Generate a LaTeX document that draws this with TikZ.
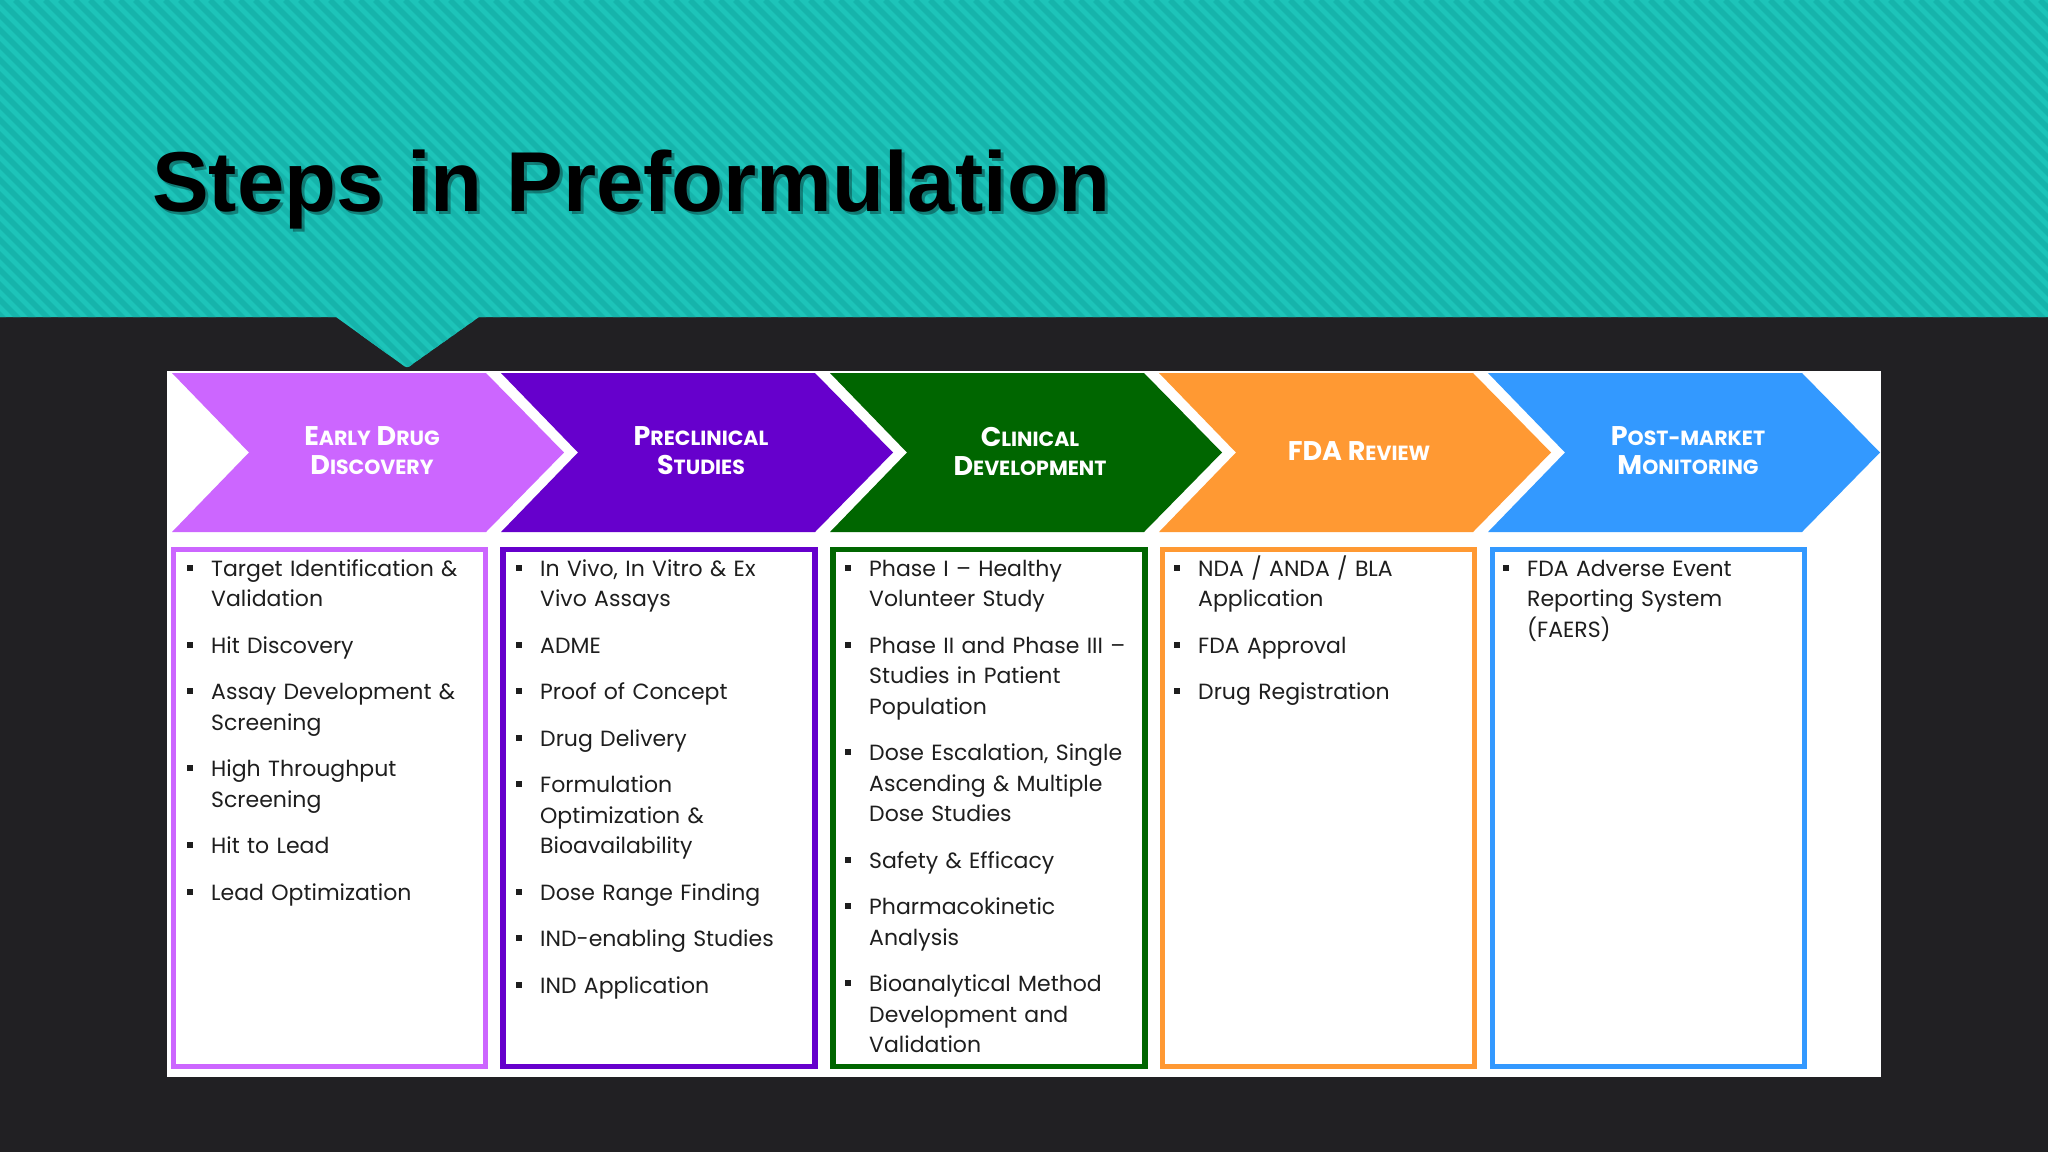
\documentclass[tikz,border=0pt]{standalone}
\usepackage{fontspec}
\setmainfont{Poppins}
\newfontfamily\titlefont{Liberation Sans}
\definecolor{bgdark}{HTML}{212023}
\definecolor{tealbase}{HTML}{1DC4B9}
\definecolor{tealstripe}{HTML}{16B4AB}
\definecolor{cPurL}{HTML}{CC66FF}
\definecolor{cPurD}{HTML}{6600CC}
\definecolor{cGreen}{HTML}{006600}
\definecolor{cOrange}{HTML}{FF9933}
\definecolor{cBlue}{HTML}{3399FF}
\definecolor{bodytext}{HTML}{1E1E1E}
\newcommand\SCbig[1]{{\fontsize{27}{29}\selectfont #1}}
\newcommand\SCsm[1]{{\fontsize{20.5}{29}\selectfont #1}}
\begin{document}
\begin{tikzpicture}[x=1pt,y=-1pt,
  stagebox/.style={draw, line width=5.5pt, fill=white, minimum width=312pt, minimum height=517pt, anchor=north west, inner sep=0pt, rectangle},
  item/.style={anchor=base west, inner sep=0pt, text width=300pt, align=left, font=\fontsize{22}{30.5}\selectfont, text=bodytext},
  bul/.style={fill=bodytext, minimum size=6pt, inner sep=0pt, rectangle},
  lbl/.style={text=white, align=center, font=\fontsize{27}{29}\selectfont\bfseries, inner sep=0pt},
  stripe/.style={draw=tealstripe, line width=5.5pt}]
\useasboundingbox (0,0) rectangle (2048,1152);
% background
\fill[bgdark] (0,0) rectangle (2048,1152);
% header with notch
\path[fill=tealbase] (0,0) -- (2048,0) -- (2048,317) -- (479,317) -- (413.5,363.4)
  .. controls (407,368.5) .. (400.5,363.4) -- (336,317) -- (0,317) -- cycle;
\begin{scope}
  \clip (0,0) -- (2048,0) -- (2048,317) -- (479,317) -- (413.5,363.4)
  .. controls (407,368.5) .. (400.5,363.4) -- (336,317) -- (0,317) -- cycle;
  \foreach \k in {-420,-405,...,2060} \draw[stripe] (\k,0) -- ++(420,420);
\end{scope}
% title
\node[anchor=base west, inner sep=0pt, text=black!75!tealbase, opacity=0.45, font=\titlefont\bfseries\fontsize{85}{90}\selectfont] (titleshadow) at (155,214) {Steps in Preformulation};
\node[anchor=base west, inner sep=0pt, text=black, font=\titlefont\bfseries\fontsize{85}{90}\selectfont] (title) at (152,211) {Steps in Preformulation};
% white panel
\fill[white] (167,371) rectangle (1881,1077);
% chevrons
\foreach \x/\c in {172/cPurL, 501/cPurD, 830/cGreen, 1159/cOrange, 1488/cBlue}{
  \fill[\c] (\x,373) -- ++(314,0) -- ++(78,79.5) -- ++(-78,79.5) -- ++(-314,0) -- ++(77,-79.5) -- cycle;
}
\node[lbl] (l1) at (372,451) {\SCbig{E}\SCsm{ARLY} \SCbig{D}\SCsm{RUG}\\\SCbig{D}\SCsm{ISCOVERY}};
\node[lbl] (l2) at (701,451) {\SCbig{P}\SCsm{RECLINICAL}\\\SCbig{S}\SCsm{TUDIES}};
\node[lbl] (l3) at (1030,451) {\SCbig{C}\SCsm{LINICAL}\\\SCbig{D}\SCsm{EVELOPMENT}};
\node[lbl] (l4) at (1359,451) {FDA \SCbig{R}\SCsm{EVIEW}};
\node[lbl] (l5) at (1688,451) {\SCbig{P}\SCsm{OST-MARKET}\\\SCbig{M}\SCsm{ONITORING}};
% boxes
\node[stagebox, draw=cPurL] (b1) at (170.5,546.5) {};
\node[stagebox, draw=cPurD] (b2) at (500.25,546.5) {};
\node[stagebox, draw=cGreen] (b3) at (830,546.5) {};
\node[stagebox, draw=cOrange] (b4) at (1159.75,546.5) {};
\node[stagebox, draw=cBlue] (b5) at (1489.5,546.5) {};
% box 1 items
\foreach \y/\t [count=\i] in {576/{Target Identification \&\\Validation}, 653/{Hit Discovery}, 699.5/{Assay Development \&\\Screening}, 776.5/{High Throughput\\Screening}, 853.5/{Hit to Lead}, 900/{Lead Optimization}}{
  \node[bul] (p1b\i) at (190,\y-8.5) {};
  \node[item] (p1t\i) at (211,\y) {\t};
}
% box 2 items
\foreach \y/\t [count=\i] in {576/{In Vivo, In Vitro \& Ex\\Vivo Assays}, 653/{ADME}, 699.5/{Proof of Concept}, 746/{Drug Delivery}, 792.5/{Formulation\\Optimization \&\\Bioavailability}, 900/{Dose Range Finding}, 946.5/{IND-enabling Studies}, 993/{IND Application}}{
  \node[bul] (p2b\i) at (519,\y-8.5) {};
  \node[item] (p2t\i) at (540,\y) {\t};
}
% box 3 items
\foreach \y/\t [count=\i] in {576/{Phase I -- Healthy\\Volunteer Study}, 653/{Phase II and Phase III --\\Studies in Patient\\Population}, 760.5/{Dose Escalation, Single\\Ascending \& Multiple\\Dose Studies}, 868/{Safety \& Efficacy}, 914.5/{Pharmacokinetic\\Analysis}, 991.5/{Bioanalytical Method\\Development and\\Validation}}{
  \node[bul] (p3b\i) at (848,\y-8.5) {};
  \node[item] (p3t\i) at (869,\y) {\t};
}
% box 4 items
\foreach \y/\t [count=\i] in {576/{NDA / ANDA / BLA\\Application}, 653/{FDA Approval}, 699.5/{Drug Registration}}{
  \node[bul] (p4b\i) at (1177,\y-8.5) {};
  \node[item] (p4t\i) at (1198,\y) {\t};
}
% box 5 items
\node[bul] (p5b1) at (1506,567.5) {};
\node[item] (p5t1) at (1527,576) {FDA Adverse Event\\Reporting System\\(FAERS)};
\end{tikzpicture}
\end{document}
